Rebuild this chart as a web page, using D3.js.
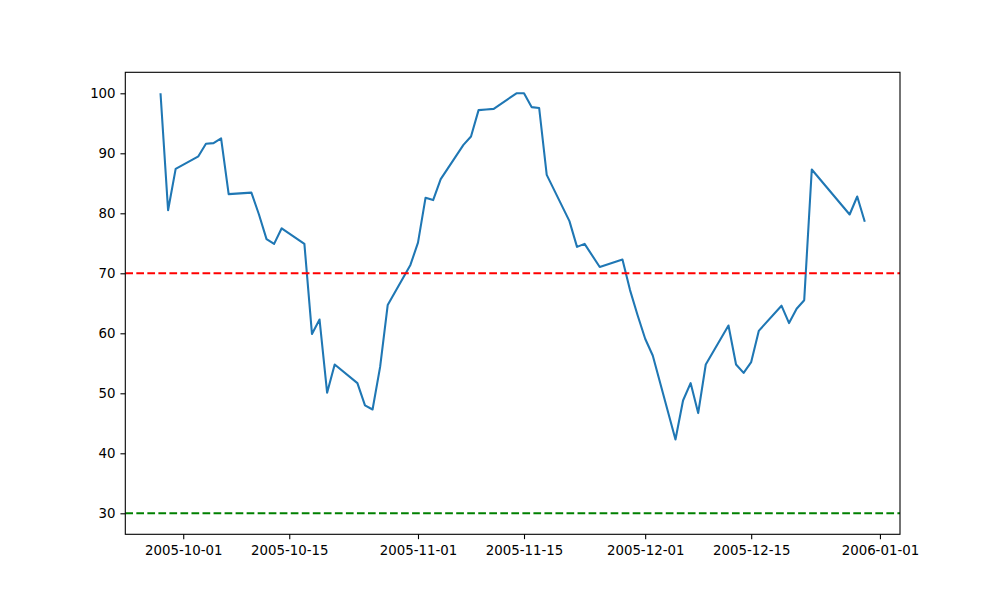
<!DOCTYPE html>
<html>
<head>
<meta charset="utf-8">
<script src="https://cdn.jsdelivr.net/npm/d3@7"></script>
<style>
  html, body { margin: 0; padding: 0; background: #fff; }
  svg { display: block; }
  .tick text { font-family: "DejaVu Sans", sans-serif; font-size: 13.33px; fill: #000; }
</style>
</head>
<body>
<svg id="chart" width="1000" height="600"></svg>
<script>
// ---- data ----
const dates = [
  "2005-09-28","2005-09-29","2005-09-30",
  "2005-10-03","2005-10-04","2005-10-05","2005-10-06","2005-10-07",
  "2005-10-10","2005-10-11","2005-10-12","2005-10-13","2005-10-14",
  "2005-10-17","2005-10-18","2005-10-19","2005-10-20","2005-10-21",
  "2005-10-24","2005-10-25","2005-10-26","2005-10-27","2005-10-28",
  "2005-10-31","2005-11-01","2005-11-02","2005-11-03","2005-11-04",
  "2005-11-07","2005-11-08","2005-11-09","2005-11-10","2005-11-11",
  "2005-11-14","2005-11-15","2005-11-16","2005-11-17","2005-11-18",
  "2005-11-21","2005-11-22","2005-11-23","2005-11-25",
  "2005-11-28","2005-11-29","2005-11-30","2005-12-01","2005-12-02",
  "2005-12-05","2005-12-06","2005-12-07","2005-12-08","2005-12-09",
  "2005-12-12","2005-12-13","2005-12-14","2005-12-15","2005-12-16",
  "2005-12-19","2005-12-20","2005-12-21","2005-12-22","2005-12-23",
  "2005-12-27","2005-12-28","2005-12-29","2005-12-30"
];
const rsi = [
  100, 80.5, 87.4,
  89.5, 91.6, 91.7, 92.5, 83.2,
  83.45, 79.8, 75.7, 74.9, 77.5,
  74.9, 59.9, 62.3, 50.1, 54.8,
  51.7, 48.0, 47.3, 54.4, 64.7,
  71.4, 75.1, 82.6, 82.2, 85.7,
  91.4, 92.8, 97.2, 97.3, 97.4,
  100, 100, 97.7, 97.55, 86.4,
  78.7, 74.4, 74.9, 71.05,
  72.3, 67.2, 63.0, 59.1, 56.3,
  42.3, 48.8, 51.7, 46.7, 54.8,
  61.3, 54.8, 53.4, 55.2, 60.4,
  64.6, 61.7, 64.1, 65.5, 87.3,
  81.3, 79.8, 82.8, 78.6
];
const overbought = 70;
const oversold = 30;
const xTickLabels = ["2005-10-01","2005-10-15","2005-11-01","2005-11-15","2005-12-01","2005-12-15","2006-01-01"];
const yTickValues = [30, 40, 50, 60, 70, 80, 90, 100];

// ---- layout ----
const svg = d3.select("#chart");
const mLeft = 125.3, mRight = 900, mTop = 72.3, mBottom = 534.3;

const parse = d3.utcParse("%Y-%m-%d");
const pts = dates.map((d, i) => ({ date: parse(d), v: rsi[i] }));

const xExt = d3.extent(pts, d => d.date);
const xSpan = xExt[1] - xExt[0];
const x = d3.scaleUtc()
  .domain([new Date(+xExt[0] - 0.05 * xSpan), new Date(+xExt[1] + 0.05 * xSpan)])
  .range([mLeft, mRight]);

const yMin = Math.min(oversold, d3.min(rsi)), yMax = Math.max(overbought, d3.max(rsi));
const ySpan = yMax - yMin;
const y = d3.scaleLinear()
  .domain([yMin - 0.05 * ySpan, yMax + 0.05 * ySpan])
  .range([mBottom, mTop]);

// clip
svg.append("defs").append("clipPath").attr("id", "clip")
  .append("rect").attr("x", mLeft).attr("y", mTop)
  .attr("width", mRight - mLeft).attr("height", mBottom - mTop);

const plot = svg.append("g").attr("clip-path", "url(#clip)");

const line = d3.line().x(d => x(d.date)).y(d => y(d.v));
plot.append("path")
  .datum(pts)
  .attr("d", line)
  .attr("fill", "none")
  .attr("stroke", "#1f77b4")
  .attr("stroke-width", 2.08)
  .attr("stroke-linejoin", "round")
  .attr("stroke-linecap", "butt");

[[overbought, "#ff0000"], [oversold, "#008000"]].forEach(([v, c]) => {
  plot.append("line")
    .attr("x1", mLeft).attr("x2", mRight)
    .attr("y1", y(v)).attr("y2", y(v))
    .attr("stroke", c)
    .attr("stroke-width", 2.08)
    .attr("stroke-dasharray", "7.7,3.33");
});

// axes
const xAxis = d3.axisBottom(x)
  .tickValues(xTickLabels.map(parse))
  .tickFormat(d3.utcFormat("%Y-%m-%d"))
  .tickSize(4.86).tickPadding(6.4);
const gx = svg.append("g").attr("transform", `translate(0,${mBottom})`).call(xAxis);

const yAxis = d3.axisLeft(y)
  .tickValues(yTickValues)
  .tickFormat(d3.format("d"))
  .tickSize(4.86).tickPadding(4.86);
const gy = svg.append("g").attr("transform", `translate(${mLeft},0)`).call(yAxis);

[gx, gy].forEach(g => {
  g.select(".domain").remove();
  g.selectAll(".tick line").attr("stroke", "#000").attr("stroke-width", 1.1);
});

// frame
svg.append("rect")
  .attr("x", mLeft).attr("y", mTop)
  .attr("width", mRight - mLeft).attr("height", mBottom - mTop)
  .attr("fill", "none").attr("stroke", "#000").attr("stroke-width", 1.1);
</script>
</body>
</html>
